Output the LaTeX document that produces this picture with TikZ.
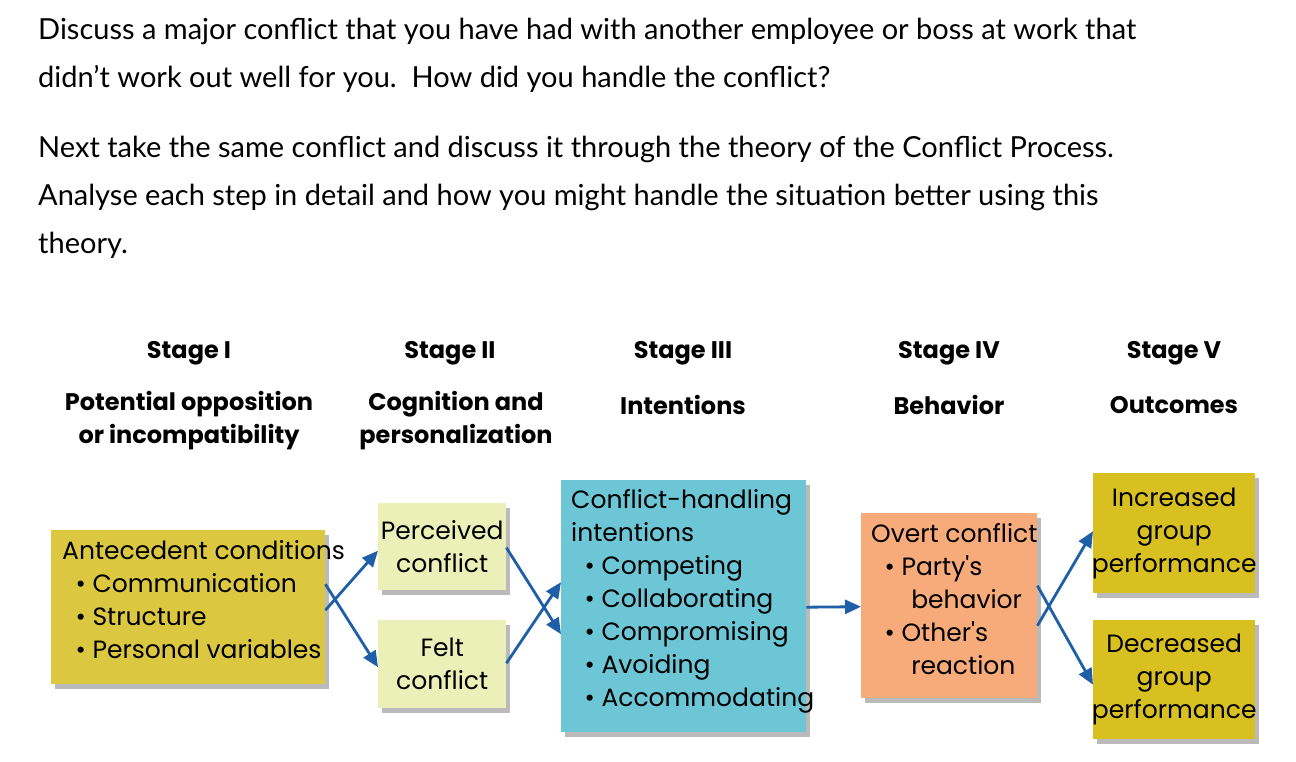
\documentclass[tikz,border=0pt]{standalone}
\usepackage{fontspec}
\setmainfont{Lato}
\newfontfamily\fut{Poppins}
\usetikzlibrary{arrows.meta,shadows}
\definecolor{ant}{HTML}{DCC840}
\definecolor{pale}{HTML}{EAF0B8}
\definecolor{cyanb}{HTML}{6CC6D6}
\definecolor{orng}{HTML}{F7AB7A}
\definecolor{gold}{HTML}{D8C020}
\definecolor{arr}{HTML}{1F5FA8}
\tikzset{
 box/.style={anchor=north west,inner sep=0pt,draw=none,drop shadow={shadow xshift=4pt,shadow yshift=-5pt,fill=black!45,opacity=.6}},
 txt/.style={font=\fut\fontsize{25}{33}\selectfont,align=left,anchor=north west,inner sep=0pt},
 ctxt/.style={font=\fut\fontsize{25}{33}\selectfont,align=center,inner sep=0pt},
 hd/.style={font=\fut\bfseries\fontsize{24}{33}\selectfont,align=center,inner sep=0pt},
 q/.style={font=\fontsize{29}{48}\selectfont,anchor=base west,inner sep=0pt},
 ar/.style={draw=arr,line width=2.8pt,-{Triangle[length=16pt,width=14pt]}}
}
\begin{document}
\begin{tikzpicture}[x=1pt,y=-1pt]
\useasboundingbox[fill=white] (0,0) rectangle (1296,762);
\node[q] (q1) at (38,40) {Discuss a major conflict that you have had with another employee or boss at work that};
\node[q] (q2) at (38,88) {didn't work out well for you.\ \ How did you handle the conflict?};
\node[q] (q3) at (38,158) {Next take the same conflict and discuss it through the theory of the Conflict Process.};
\node[q] (q4) at (38,206) {Analyse each step in detail and how you might handle the situation better using this};
\node[q] (q5) at (38,254) {theory.};
\node[hd] (h1) at (189,353) {Stage I};
\node[hd] (h2) at (450,353) {Stage II};
\node[hd] (h3) at (683,353) {Stage III};
\node[hd] (h4) at (949,353) {Stage IV};
\node[hd] (h5) at (1174,353) {Stage V};
\node[hd] (s1) at (189,421) {Potential opposition\\or incompatibility};
\node[hd] (s2) at (456,421) {Cognition and\\personalization};
\node[hd] (s3) at (683,405) {Intentions};
\node[hd] (s4) at (949,405) {Behavior};
\node[hd] (s5) at (1174,405) {Outcomes};
% boxes
\node[box,fill=ant,minimum width=274pt,minimum height=154pt] (a) at (51,530) {};
\node[txt] (at) at (62,540) {Antecedent conditions\\\ \ \textbullet\ Communication\\\ \ \textbullet\ Structure\\\ \ \textbullet\ Personal variables};
\node[box,fill=pale,minimum width=128pt,minimum height=87pt] (p) at (378,503) {};
\node[ctxt] (pt) at (p.center) {Perceived\\conflict};
\node[box,fill=pale,minimum width=128pt,minimum height=88pt] (f) at (378,620) {};
\node[ctxt] (ft) at (f.center) {Felt\\conflict};
\node[box,fill=cyanb,minimum width=245pt,minimum height=252pt] (i) at (561,480) {};
\node[txt] (it) at (571,489) {Conflict-handling\\intentions\\\ \ \textbullet\ Competing\\\ \ \textbullet\ Collaborating\\\ \ \textbullet\ Compromising\\\ \ \textbullet\ Avoiding\\\ \ \textbullet\ Accommodating};
\node[box,fill=orng,minimum width=176pt,minimum height=185pt] (o) at (861,513) {};
\node[txt] (ot) at (871,523) {Overt conflict\\\ \ \textbullet\ Party's\\\ \ \ \ \ \ behavior\\\ \ \textbullet\ Other's\\\ \ \ \ \ \ reaction};
\node[box,fill=gold,minimum width=162pt,minimum height=120pt] (u) at (1093,473) {};
\node[ctxt] (ut) at (u.center) {Increased\\group\\performance};
\node[box,fill=gold,minimum width=162pt,minimum height=119pt] (d) at (1093,620) {};
\node[ctxt] (dt) at (d.center) {Decreased\\group\\performance};
% arrows
\draw[ar] ([yshift=-3pt]a.east) -- ([yshift=-4pt]p.west);
\draw[ar] ([yshift=23pt]a.east) -- ([yshift=-3pt]f.west);
\draw[ar] ([yshift=-1pt]p.east) -- ([yshift=-28pt]i.west);
\draw[ar] ([yshift=1pt]f.east) -- ([yshift=24pt]i.west);
\draw[ar] ([yshift=-1pt]i.east) -- ([yshift=-1pt]o.west);
\draw[ar] ([yshift=-20pt]o.east) -- ([yshift=2pt]u.west);
\draw[ar] ([yshift=20pt]o.east) -- ([yshift=-5pt]d.west);
\end{tikzpicture}
\end{document}
